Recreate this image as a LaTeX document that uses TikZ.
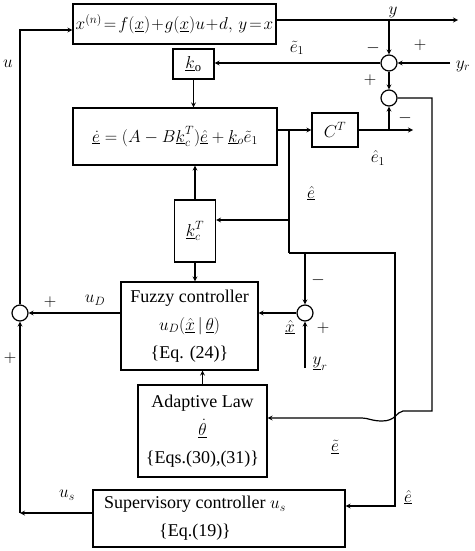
\documentclass[tikz,border=0pt]{standalone}
\usepackage{fontspec}
\setmainfont{Liberation Serif}
\usetikzlibrary{positioning,calc,arrows}

\begin{document}
\begin{tikzpicture}[x=1pt,y=-1pt]
	\tikzstyle{every node}=[font=\fontsize{18}{28}\selectfont]
	\tikzstyle{block}=[draw, line width=1.2pt, inner sep=2pt, align=center]
	\tikzstyle{sum}=[draw, line width=1.2pt, circle, minimum size=16pt, inner sep=0pt]
	\tikzstyle{sig}=[line width=1.2pt, ->, >=stealth]
	\tikzstyle{wire}=[line width=1.2pt]

	\useasboundingbox (0,0) rectangle (474,551);

	\node[block, minimum width=203pt, minimum height=40pt] (plant) at (174.5,24) {$x^{(n)}\!=\!f(\underline{x})\!+\!g(\underline{x})u\!+\!d,\,y\!=\!x$};
	\node[block, minimum width=41pt, minimum height=30pt] (ko) at (193.5,64) {$\underline{k}_{\mathrm{o}}$};
	\node[block, minimum width=204pt, minimum height=57pt] (obs) at (175,136.5) {$\underline{\dot{e}} = (A - B\underline{k}_c^T)\underline{\hat{e}} + \underline{k}_o\tilde{e}_1$};
	\node[block, minimum width=46pt, minimum height=34pt] (ct) at (335,130) {$C^T$};
	\node[block, minimum width=41pt, minimum height=62pt] (kc) at (195,231) {$\underline{k}_c^T$};
	\node[block, minimum width=137pt, minimum height=88pt] (fuzzy) at (189.5,326) {Fuzzy controller\\ $u_D(\underline{\hat{x}}\,|\,\underline{\theta})$\\ \{Eq. (24)\}};
	\node[block, minimum width=129pt, minimum height=92pt] (adapt) at (202.5,431) {Adaptive Law\\ $\underline{\dot{\theta}}$\\ \{Eqs.(30),(31)\}};
	\node[block, minimum width=252pt, minimum height=57pt] (sup) at (219,518.5) {Supervisory controller $u_s$\hspace*{48pt}\\ \{Eq.(19)\}\hspace*{48pt}};

	\node[sum] (s1) at (389,63) {};
	\node[sum] (s2) at (389,98) {};
	\node[sum] (s3) at (305,313) {};
	\node[sum] (s4) at (20,313) {};

	\coordinate (yout) at (458,20);
	\coordinate (yr) at (450,63);
	\coordinate (e1out) at (413,130);
	\coordinate (ebr) at (289,130);
	\coordinate (kcin) at (289,220);
	\coordinate (ebot) at (289,253);
	\coordinate (eright) at (395,253);
	\coordinate (supin) at (395,506);
	\coordinate (yrb) at (305,368);
	\coordinate (utop) at (20,30);
	\coordinate (usout) at (20,513);
	\coordinate (loop) at (432,98);
	\coordinate (loopdn) at (432,411);
	\coordinate (hopa) at (403,411);
	\coordinate (hopb) at (362,418);

	% plant output and error sums
	\draw[sig] (plant.east |- yout) -- (yout);
	\draw[sig] (s1 |- yout) -- (s1.north);
	\draw[sig] (yr) -- (s1.east);
	\draw[sig] (s1.west) -- (ko.east |- s1);
	\draw[sig] (s1.south) -- (s2.north);
	\draw[sig] (ko.south) -- (ko.south |- obs.north);

	% observer
	\draw[sig] (obs.east |- ct) -- (ct.west);
	\draw[sig] (ct.east) -- (e1out);
	\draw[sig] (s2 |- e1out) -- (s2.south);
	\draw[sig] (kcin) -- (kc.east |- kcin);
	\draw[wire] (ebr) -- (ebot);
	\draw[sig] (ebot) -- (eright) -- (supin) -- (sup.east |- supin);
	\draw[sig] (s3 |- ebot) -- (s3.north);
	\draw[sig] (s3.west) -- (fuzzy.east |- s3);
	\draw[sig] (yrb) -- (s3.south);
	\draw[sig] (kc.north) -- (kc.north |- obs.south);
	\draw[sig] (kc.south) -- (kc.south |- fuzzy.north);
	\draw[sig] (adapt.north) -- (adapt.north |- fuzzy.south);

	% control signal
	\draw[sig] (fuzzy.west |- s4) -- (s4.east);
	\draw[sig] (s4.north) -- (utop) -- (plant.west |- utop);
	\draw[sig] (sup.west |- usout) -- (usout);
	\draw[sig] (usout) -- (s4.south);

	% output error to adaptive law
	\draw[sig] (s2.east) -- (loop) -- (loopdn) -- (hopa) .. controls (396,412) and (396,421) .. (382,421) .. controls (372,421) and (368,418) .. (hopb) -- (adapt.east |- hopb);

	\node[inner sep=0.5pt] (ylab) at (393,12) {$y$};
	\node (e1tlab) at (297,48) {$\tilde{e}_1$};
	\node (yrlab) at (463,66) {$y_r$};
	\node (m1) at (373,48) {$-$};
	\node (p1) at (420,45) {$+$};
	\node (p2) at (370,80) {$+$};
	\node (m2) at (405,118) {$-$};
	\node (e1hlab) at (378,158) {$\hat{e}_1$};
	\node (ehlab) at (311,193) {$\underline{\hat{e}}$};
	\node (m3) at (318,280) {$-$};
	\node (xhlab) at (290,327) {$\underline{\hat{x}}$};
	\node (p3) at (323,328) {$+$};
	\node (yrblab) at (320,364) {$\underline{y}_r$};
	\node (ulab) at (8,64) {$u$};
	\node (udlab) at (95,300) {$u_D$};
	\node (p4) at (50,302) {$+$};
	\node (p5) at (10,358) {$+$};
	\node (uslab) at (67,495) {$u_s$};
	\node (etlab) at (335,447) {$\underline{\tilde{e}}$};
	\node (ehlab2) at (408,497) {$\underline{\hat{e}}$};
\end{tikzpicture}
\end{document}
